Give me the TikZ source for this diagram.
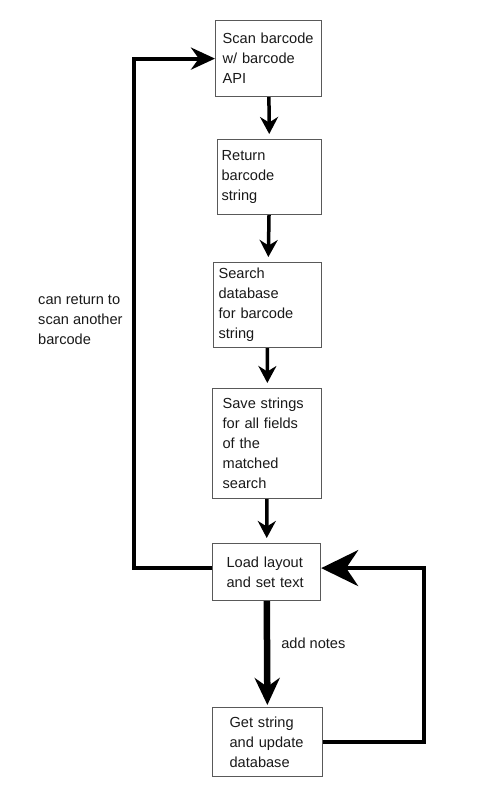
\documentclass[tikz,border=0pt]{standalone}
\usepackage{fontspec}
\setmainfont{Liberation Sans}
\usetikzlibrary{arrows.meta}
\hyphenpenalty=10000
\tikzset{
  stepbox/.style={draw=black!65, line width=1.2pt, rectangle, anchor=north west, align=left, inner ysep=0pt, text=black!90, font=\fontsize{14.6}{20}\selectfont},
  flow/.style={line width=3.5pt, -{Stealth[length=17pt, width=18pt]}, shorten >=5pt},
  loopback/.style={line width=4pt},
  note/.style={inner sep=0pt, align=left, text=black!90, font=\fontsize{14.6}{20}\selectfont}
}

\begin{document}
\begin{tikzpicture}[x=1pt, y=-1pt]
    \useasboundingbox (0,0) rectangle (486,798);
    \node [stepbox, text width=92pt, inner xsep=7pt, minimum height=76pt] (scan) at (215,20) {Scan barcode\\w/ barcode\\API};
    \node [stepbox, text width=96pt, inner xsep=4pt, minimum height=75pt] (ret) at (217,139) {Return\\barcode\\string};
    \node [stepbox, text width=98pt, inner xsep=5pt, minimum height=85pt] (search) at (213,262) {Search\\database\\for barcode\\string};
    \node [stepbox, text width=89pt, inner xsep=10pt, minimum height=110pt] (save) at (212,388) {Save strings\\for all fields\\of the\\matched\\search};
    \node [stepbox, text width=80pt, inner xsep=14pt, minimum height=57pt] (load) at (212,543) {Load layout\\and set text};
    \node [stepbox, text width=76pt, inner xsep=17pt, minimum height=69pt] (get) at (212,707) {Get string\\and update\\database};
    \node [note, anchor=north west] (hint) at (38,295) {can return to\\scan another\\barcode};
    \draw [flow] (scan) -- (ret);
    \draw [flow] (ret) -- (search);
    \draw [flow] (search) -- (save);
    \draw [flow] (save) -- (load);
    \draw [line width=6.5pt, -{Stealth[length=27pt, width=25pt]}, shorten >=2pt] (load) -- node [note, pos=0.4, right=11pt] {add notes} (get);
    \draw [loopback, -{Stealth[length=37pt, width=36pt]}] (get.east) -- ++(101,0) |- ([yshift=4pt]load.east);
    \draw [loopback, -{Stealth[length=24pt, width=22pt]}] ([yshift=4pt]load.west) -- ++(-78,0) |- (scan.west);
\end{tikzpicture}
\end{document}
